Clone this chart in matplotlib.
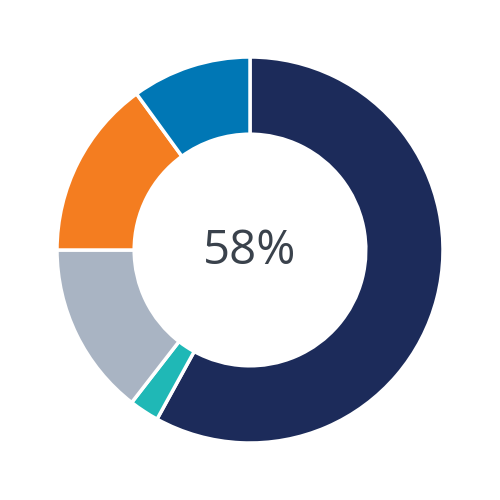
import matplotlib.pyplot as plt

# segment values, clockwise from 12 o'clock
labels = ['Navy', 'Teal', 'Gray', 'Orange', 'Blue']
values = [58, 2.5, 14.5, 15, 10]
colors = ['#1c2b5a', '#1fb8b6', '#a9b4c3', '#f47d20', '#0077b5']
center_text = '58%'

fig = plt.figure(figsize=(5, 5), dpi=100)
ax = fig.add_axes([0, 0, 1, 1])

ax.pie(values, colors=colors, startangle=90, counterclock=False,
       radius=1, wedgeprops=dict(width=0.40, edgecolor='white', linewidth=2.5))

ax.text(0, -0.005, center_text, ha='center', va='center', fontsize=34,
        color='#3a424c', family='Open Sans')

lim = 250 / 193
ax.set_xlim(-lim, lim)
ax.set_ylim(-lim, lim)
ax.set_aspect('equal')
ax.axis('off')

plt.savefig('out.png')
